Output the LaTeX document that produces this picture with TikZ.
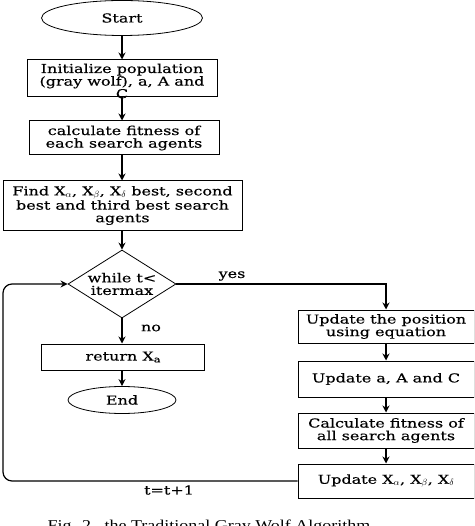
\documentclass[tikz,border=0pt]{standalone}
\usepackage{fontspec}
\setmainfont{DejaVu Serif}[FakeStretch=1.3,FakeBold=0.4]
\newfontfamily\capfont{Liberation Serif}[FakeStretch=1.2]
\usetikzlibrary{shapes.geometric,arrows.meta}
\begin{document}
\begin{tikzpicture}[x=1pt,y=-1pt,
  every node/.style={font=\fontsize{12.3}{12.6}\selectfont},
  box/.style={draw,line width=1pt,inner sep=0pt,align=center},
  oval/.style={draw,ellipse,line width=0.8pt,inner sep=0pt},
  arr/.style={line width=1.2pt,-{Stealth[length=7pt,width=7pt]}},
  lbl/.style={inner sep=0pt}]
\useasboundingbox (0,0) rectangle (474,526);
\clip (0,0) rectangle (474,526);
% left column
\node[oval,minimum width=161pt,minimum height=35pt] (start) at (122,18) {Start};
\node[box,minimum width=190pt,minimum height=37pt] (init) at (122,78.5) {};
\node[lbl,align=center] (inittxt) at (122,81) {Initialize population\\(gray wolf), a, A and\\C};
\node[box,minimum width=190pt,minimum height=34pt] (calc) at (124,138) {calculate fitness of\\each search agents};
\node[box,minimum width=239pt,minimum height=49pt] (find) at (122.5,205.5) {Find X$_{\scriptstyle\alpha}$, X$_{\scriptstyle\beta}$, X$_{\scriptstyle\delta}$ best, second\\best and third best search\\agents};
\node[draw,diamond,line width=0.8pt,minimum width=108pt,minimum height=68pt,inner sep=0pt,aspect=1.6] (dia) at (122,284) {};
\node[lbl,align=center] (diatxt) at (122,284) {while t<\\itermax};
\node[box,minimum width=163pt,minimum height=26pt] (ret) at (122.5,357) {return X$_{\scriptstyle\mathrm{a}}$};
\node[oval,minimum width=108pt,minimum height=27pt] (end) at (122,400) {End};
% right column
\node[box,minimum width=176pt,minimum height=33pt] (upp) at (386,326.5) {Update the position\\using equation};
\node[box,minimum width=176pt,minimum height=36pt] (upa) at (386,379) {Update a, A and C};
\node[box,minimum width=176pt,minimum height=35pt] (upf) at (386,430.5) {Calculate fitness of\\all search agents};
\node[box,minimum width=176pt,minimum height=34pt] (upx) at (386,481) {Update X$_{\scriptstyle\alpha}$, X$_{\scriptstyle\beta}$, X$_{\scriptstyle\delta}$};
\coordinate (lc) at (3,284);
% connectors
\draw[arr] (start) -- (init);
\draw[arr] (init) -- (calc.north -| init);
\draw[arr] (calc.south -| init) -- (find.north -| init);
\draw[arr] (find.south -| init) -- (dia.north);
\draw[arr] (dia.south) -- (ret.north -| dia);
\draw[arr] (ret.south -| dia) -- (end);
\draw[arr] (dia.east) -| (upp.north);
\draw[arr] (upp) -- (upa);
\draw[arr] (upa) -- (upf);
\draw[arr] (upf) -- (upx);
\draw[arr,rounded corners=9pt] (upx.west) -| (lc) -- (dia.west);
% labels
\node[lbl] (yes) at (232,276) {yes};
\node[lbl] (no) at (151,328) {no};
\node[lbl] (tt) at (169,490) {t=t+1};
\node[lbl,anchor=base,font=\capfont\fontsize{15}{16}\selectfont] (cap) at (209,530) {Fig. 2.\ \ the Traditional Gray Wolf Algorithm};
\end{tikzpicture}
\end{document}
